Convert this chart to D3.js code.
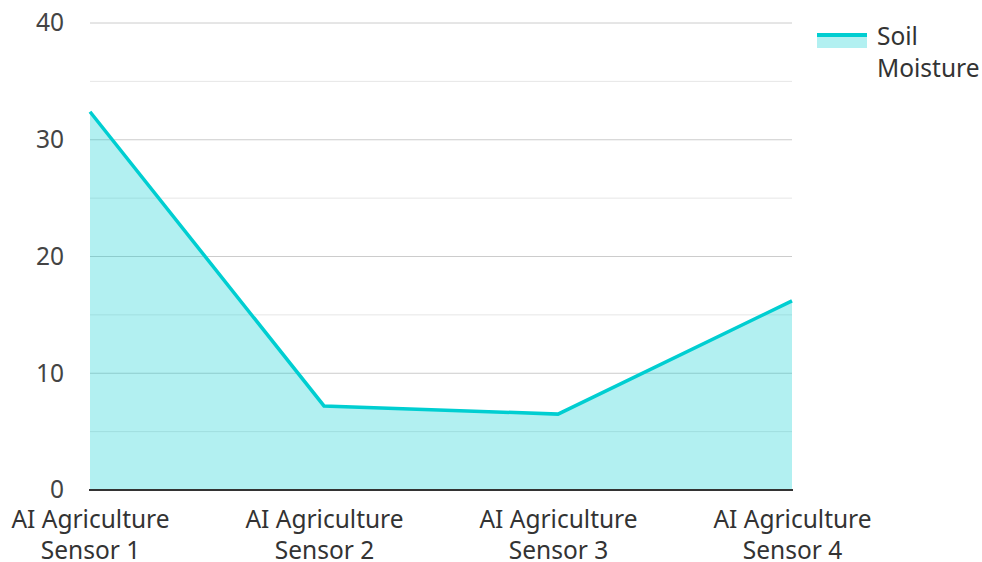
<!DOCTYPE html>
<html><head><meta charset="utf-8">
<script src="https://cdn.jsdelivr.net/npm/d3@7"></script>
<style>html,body{margin:0;padding:0;background:#fff;}svg{display:block;font-family:"Noto Sans",sans-serif;}</style>
</head><body><svg id="c" width="982" height="562"></svg>
<script>
const categories = ["AI Agriculture Sensor 1","AI Agriculture Sensor 2","AI Agriculture Sensor 3","AI Agriculture Sensor 4"];
const soilMoisture = [32.4, 7.2, 6.5, 16.2];
const seriesName = "Soil Moisture";
const yTicks = [0,10,20,30,40];
const yMinorTicks = [5,15,25,35];

const svg = d3.select("#c");
const m = {l:90, r:190, t:23, b:72};
const W = 982, H = 562;
const x = d3.scalePoint().domain(categories).range([m.l, W - m.r]).padding(0);
const y = d3.scaleLinear().domain([0,40]).range([H - m.b, m.t]);
const lineColor = "#00CED1";
const FS = 24.5;

// grid
svg.append("g").selectAll("line").data(yMinorTicks).join("line")
  .attr("x1", m.l).attr("x2", W - m.r).attr("y1", d=>y(d)).attr("y2", d=>y(d))
  .attr("stroke", "#e6e6e6").attr("stroke-width", 1);
svg.append("g").selectAll("line").data(yTicks.filter(d=>d>0)).join("line")
  .attr("x1", m.l).attr("x2", W - m.r).attr("y1", d=>y(d)).attr("y2", d=>y(d))
  .attr("stroke", "#cccccc").attr("stroke-width", 1);

// area + line
const data = categories.map((c,i)=>({c, v: soilMoisture[i]}));
svg.append("path").datum(data)
  .attr("d", d3.area().x(d=>x(d.c)).y0(y(0)).y1(d=>y(d.v)))
  .attr("fill", lineColor).attr("fill-opacity", 0.3);
svg.append("path").datum(data)
  .attr("d", d3.line().x(d=>x(d.c)).y(d=>y(d.v)))
  .attr("fill", "none").attr("stroke", lineColor).attr("stroke-width", 3.5).attr("stroke-linejoin","miter");

// y axis labels
const yAxis = d3.axisLeft(y).tickValues(yTicks).tickSize(0).tickPadding(26);
const gy = svg.append("g").attr("transform", `translate(${m.l},0)`).call(yAxis);
gy.select(".domain").remove();
gy.selectAll("text").attr("font-size", FS).attr("fill", "#444").attr("font-family", "Noto Sans");

// x axis
const xAxis = d3.axisBottom(x).tickSize(0).tickPadding(0);
const gx = svg.append("g").attr("transform", `translate(0,${y(0)})`).call(xAxis);
gx.select(".domain").attr("stroke", "#333").attr("stroke-width", 2).attr("d", `M${m.l-1},0H${W-m.r+1}`);
gx.selectAll(".tick text").each(function(d){
  const t = d3.select(this);
  t.text(null).attr("font-size", FS).attr("fill", "#333").attr("font-family", "Noto Sans").attr("y", 0).attr("dy", null);
  const parts = d.split(" ");
  const l1 = parts.slice(0,2).join(" "), l2 = parts.slice(2).join(" ");
  t.append("tspan").attr("x", 0).attr("y", 38).text(l1);
  t.append("tspan").attr("x", 0).attr("y", 69).text(l2);
});

// legend
const lg = svg.append("g").attr("transform", "translate(817,33)");
lg.append("rect").attr("x",0).attr("y",0).attr("width",50).attr("height",15).attr("fill", lineColor).attr("fill-opacity",0.3);
lg.append("line").attr("x1",0).attr("x2",50).attr("y1",2).attr("y2",2).attr("stroke", lineColor).attr("stroke-width",4);
const lt = lg.append("text").attr("font-size", FS).attr("fill", "#333").attr("font-family","Noto Sans");
lt.append("tspan").attr("x",60).attr("y",12).text("Soil");
lt.append("tspan").attr("x",60).attr("y",44).text("Moisture");
</script></body></html>
